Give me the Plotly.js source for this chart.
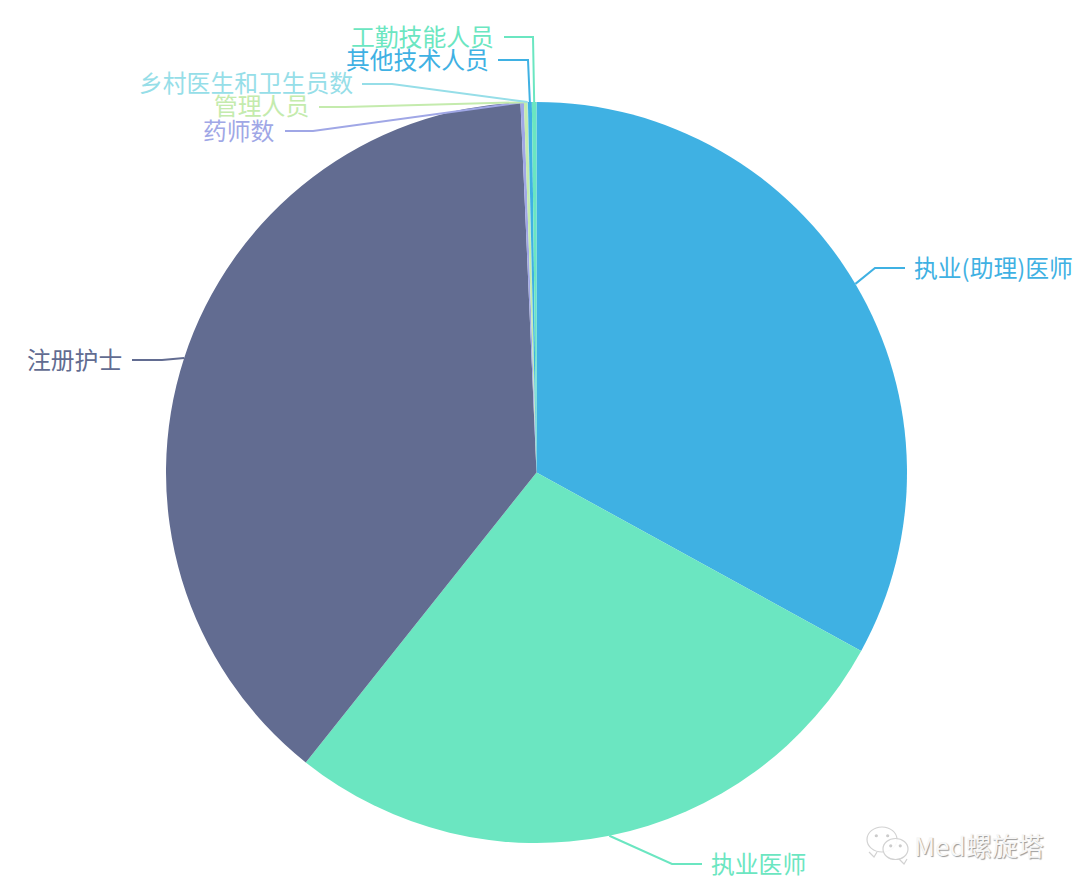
<!DOCTYPE html>
<html><head><meta charset="utf-8">
<script src="https://cdn.plot.ly/plotly-3.0.1.min.js"></script>
<style>html,body{margin:0;padding:0;background:#fff}#c{width:1080px;height:893px}</style>
</head><body><div id="c"></div>
<script>
const categories = ['执业(助理)医师','执业医师','注册护士','药师数','管理人员','乡村医生和卫生员数','其他技术人员','工勤技能人员'];
const shares = [33.0,27.7,38.61,0.15,0.15,0.02,0.17,0.2];
const colors = ['#3fb1e3','#6be6c1','#626c91','#a0a7e6','#c4ebad','#96dee8','#3fb1e3','#6be6c1'];

// layout only: pixel placement of the outside labels
const W=1080,H=893,CX=536.5,CY=472.5,R=370.5;
const labelPlace = [
 {anchor:'left', tx:914,ty:266,elbow:[875,268],end:[905,268]},
 {anchor:'left', tx:711,ty:862,elbow:[672,864],end:[702,864]},
 {anchor:'right',tx:121.5,ty:358,elbow:[162,360],end:[132,360]},
 {anchor:'right',tx:274.5,ty:129,elbow:[313,131],end:[285,131]},
 {anchor:'right',tx:308.5,ty:105,elbow:[345,107],end:[319,107]},
 {anchor:'right',tx:352.5,ty:82, elbow:[392,84], end:[362,84]},
 {anchor:'right',tx:488.5,ty:58, elbow:[528,60], end:[498,60]},
 {anchor:'right',tx:493.5,ty:35, elbow:[533,37], end:[504,37]}
];
const px=x=>x/W, py=y=>1-y/H;
const total=shares.reduce((a,b)=>a+b,0);
let cum=0;
const shapes=[],annotations=[];
shares.forEach((v,i)=>{
  const mid=(cum+v/2)/total*2*Math.PI; cum+=v;
  const sx=CX+R*Math.sin(mid), sy=CY-R*Math.cos(mid), p=labelPlace[i];
  shapes.push({type:'path',xref:'paper',yref:'paper',
    path:`M${px(sx)},${py(sy)}L${px(p.elbow[0])},${py(p.elbow[1])}L${px(p.end[0])},${py(p.end[1])}`,
    line:{color:colors[i],width:2}});
  annotations.push({xref:'paper',yref:'paper',x:px(p.tx),y:py(p.ty),text:categories[i],showarrow:false,
    xanchor:p.anchor,yanchor:'middle',borderpad:0,borderwidth:0,
    font:{family:'"Noto Sans CJK SC","Noto Sans",sans-serif',size:23.8,color:colors[i]}});
});
// watermark
annotations.push({xref:'paper',yref:'paper',x:px(914),y:py(844),text:'Med螺旋塔',showarrow:false,
  xanchor:'left',yanchor:'middle',borderpad:0,borderwidth:0,
  font:{family:'"Noto Sans CJK SC","Noto Sans",sans-serif',size:26,color:'#f7f7f7',shadow:'1px 1px 1px #999'}});
function bubble(cx,cy,rx,ry,tx,ty){
  shapes.push({type:'circle',xref:'paper',yref:'paper',x0:px(cx-rx),x1:px(cx+rx),y0:py(cy-ry),y1:py(cy+ry),
    line:{color:'#d2d2d2',width:1.2},fillcolor:'rgba(255,255,255,0.9)'});
  shapes.push({type:'path',xref:'paper',yref:'paper',path:`M${px(tx-5)},${py(ty-5)}L${px(tx)},${py(ty)}L${px(tx+3)},${py(ty-5)}`,line:{color:'#d2d2d2',width:1.2}});
  [-0.38,0.38].forEach(k=>shapes.push({type:'circle',xref:'paper',yref:'paper',
    x0:px(cx+k*rx-1.6),x1:px(cx+k*rx+1.6),y0:py(cy-ry*0.3-1.6),y1:py(cy-ry*0.3+1.6),
    line:{width:0},fillcolor:'#cccccc'}));
}
bubble(882,839.5,15,12.5,874,857);
bubble(895.5,849,12.5,10.5,904,864);
Plotly.newPlot('c',[{type:'pie',labels:categories,values:shares,sort:false,direction:'clockwise',rotation:0,
  marker:{colors:colors,line:{width:0}},textinfo:'none',hoverinfo:'label+percent',
  domain:{x:[px(CX-R),px(CX+R)],y:[py(CY+R),py(CY-R)]}}],
 {width:W,height:H,margin:{l:0,r:0,t:0,b:0},showlegend:false,paper_bgcolor:'#fff',shapes,annotations},
 {displayModeBar:false});
</script></body></html>
